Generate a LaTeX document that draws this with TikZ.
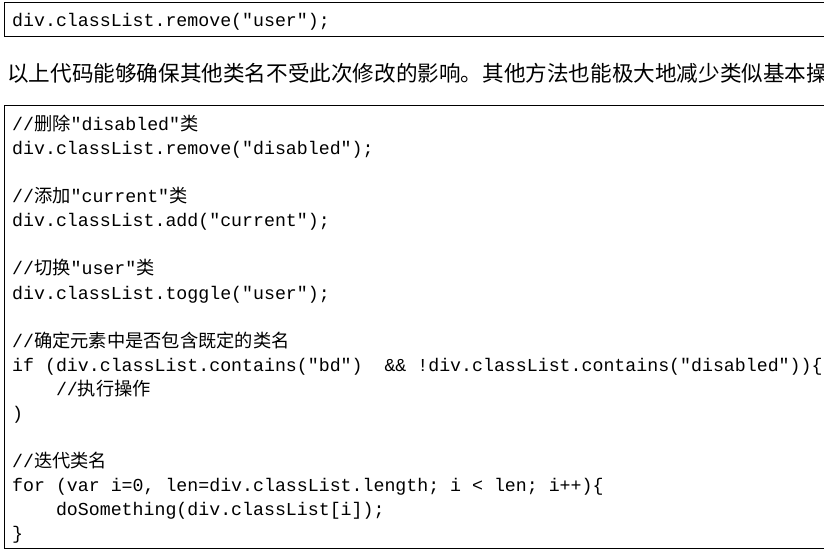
\documentclass[tikz,border=0pt]{standalone}
\usepackage{fontspec}
\setmonofont{Liberation Mono}
\newfontfamily\cjk{Noto Sans CJK SC}
\tikzset{codeline/.style={anchor=base west,inner sep=0pt,font=\ttfamily\fontsize{18.25}{18}\selectfont},
  codebox/.style={draw=black,line width=1pt}}
\begin{document}
\begin{tikzpicture}[x=1pt,y=-1pt]
\useasboundingbox (0,0) rectangle (824,553);
\fill[white] (0,0) rectangle (824,553);
\draw[codebox] (4,3) -- (826,3) (4,3) -- (4,37) -- (826,37);
\node[codeline] (t) at (12,27) {div.classList.remove("user");};
\node[anchor=base west,inner sep=0pt,font=\cjk\fontsize{21.6}{21.6}\selectfont] (p) at (7,82) {以上代码能够确保其他类名不受此次修改的影响。其他方法也能极大地减少类似基本操};
\draw[codebox] (826,106) -- (4,106) -- (4,548) -- (826,548);
\node[codeline] (l1) at (12,131) {//{\cjk 删除}"disabled"{\cjk 类}};
\node[codeline] (l2) at (12,155) {div.classList.remove("disabled");};
\node[codeline] (l3) at (12,203) {//{\cjk 添加}"current"{\cjk 类}};
\node[codeline] (l4) at (12,227) {div.classList.add("current");};
\node[codeline] (l5) at (12,275) {//{\cjk 切换}"user"{\cjk 类}};
\node[codeline] (l6) at (12,299) {div.classList.toggle("user");};
\node[codeline] (l7) at (12,347) {//{\cjk 确定元素中是否包含既定的类名}};
\node[codeline] (l8) at (12,371) {if (div.classList.contains("bd")\ \ \&\& !div.classList.contains("disabled"))\{};
\node[codeline] (l9) at (12,395) {\ \ \ \ //{\cjk 执行操作}};
\node[codeline] (l10) at (12,419) {)};
\node[codeline] (l11) at (12,467) {//{\cjk 迭代类名}};
\node[codeline] (l12) at (12,491) {for (var i=0, len=div.classList.length; i < len; i++)\{};
\node[codeline] (l13) at (12,515) {\ \ \ \ doSomething(div.classList[i]);};
\node[codeline] (l14) at (12,539) {\}};
\end{tikzpicture}
\end{document}
